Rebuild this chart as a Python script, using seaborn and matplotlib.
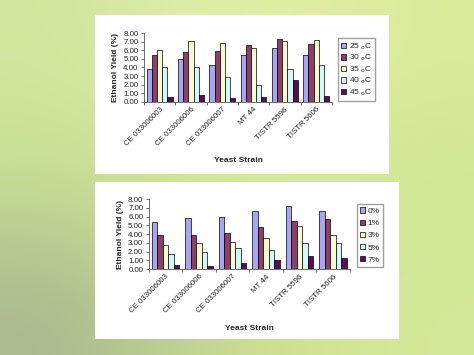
import matplotlib
matplotlib.use("Agg")
import matplotlib.pyplot as plt
import seaborn as sns
import pandas as pd
import numpy as np
from matplotlib.patches import Rectangle
from matplotlib.ticker import FixedLocator, FormatStrFormatter

strains = ["CE 033006003", "CE 033006006", "CE 033006007", "MT 44", "TISTR 5596", "TISTR 5606"]

temp_labels = ["25 $_{\\rm o}$C", "30 $_{\\rm o}$C", "35 $_{\\rm o}$C", "40 $_{\\rm o}$C", "45 $_{\\rm o}$C"]
temp_25 = [3.8, 5.0, 4.3, 5.4, 6.25, 5.5]
temp_30 = [5.4, 5.85, 5.95, 6.6, 7.25, 6.7]
temp_35 = [6.0, 7.1, 6.8, 6.25, 7.05, 7.2]
temp_40 = [4.1, 4.05, 2.85, 2.0, 3.85, 4.3]
temp_45 = [0.6, 0.8, 0.45, 0.55, 2.5, 0.65]

eth_labels = ["0%", "1%", "3%", "5%", "7%"]
eth_0 = [5.4, 5.85, 6.0, 6.6, 7.25, 6.7]
eth_1 = [3.9, 3.95, 4.1, 4.85, 5.5, 5.75]
eth_3 = [2.75, 3.0, 3.15, 3.55, 4.95, 3.85]
eth_5 = [1.75, 1.95, 2.4, 2.2, 2.95, 2.95]
eth_7 = [0.45, 0.3, 0.65, 1.05, 1.45, 1.3]

colors = ["#9999FF", "#993366", "#FFFFCC", "#CCFFFF", "#660066"]

sns.set_theme(style="white")
plt.rcParams["font.family"] = ["Liberation Sans", "DejaVu Sans"]


def long_table(labels, series):
    rows = []
    for lab, vals in zip(labels, series):
        for s, v in zip(strains, vals):
            rows.append({"Strain": s, "Group": lab, "Yield": v})
    return pd.DataFrame(rows)


def draw_panel(fig, rect, legend_anchor, labels, series, spacing):
    ax = fig.add_axes(rect)
    ax.set_facecolor("none")
    df = long_table(labels, series)
    sns.barplot(data=df, x="Strain", y="Yield", hue="Group", palette=colors,
                edgecolor="black", linewidth=0.5, width=0.82, ax=ax)
    ax.set_ylim(0, 8)
    ax.set_xlim(-0.5, len(strains) - 0.5)
    ax.set_yticks(np.arange(0, 9, 1))
    ax.yaxis.set_major_formatter(FormatStrFormatter("%.2f"))
    ax.xaxis.set_minor_locator(FixedLocator(np.arange(-0.5, len(strains), 1)))
    ax.tick_params(axis="x", which="major", length=0, labelsize=5.7, pad=3, labelcolor="#222222")
    ax.tick_params(axis="x", which="minor", length=2.5, width=0.6, color="#555555", bottom=True)
    ax.tick_params(axis="y", length=2.5, width=0.6, color="#555555", labelsize=5.7, pad=1.5,
                   left=True, labelcolor="#222222")
    for lab in ax.get_xticklabels():
        lab.set_rotation(45)
        lab.set_ha("right")
        lab.set_rotation_mode("anchor")
    for side in ["top", "right"]:
        ax.spines[side].set_visible(False)
    for side in ["left", "bottom"]:
        ax.spines[side].set_color("#555555")
        ax.spines[side].set_linewidth(0.6)
    ax.set_xlabel("Yeast Strain", fontsize=6, fontweight="bold", labelpad=7)
    ax.set_ylabel("Ethanol Yield (%)", fontsize=6, fontweight="bold", labelpad=3)
    handles, labs = ax.get_legend_handles_labels()
    ax.legend(handles, labs, loc="upper left", bbox_to_anchor=legend_anchor,
              bbox_transform=fig.transFigure, fontsize=6, frameon=True,
              fancybox=False, edgecolor="#888888", handlelength=0.6,
              handleheight=0.6, handletextpad=0.3, labelspacing=spacing,
              borderpad=0.4, borderaxespad=0)
    return ax


fig = plt.figure(figsize=(4.74, 3.55), dpi=100)

# green textured slide background (approximated with a soft gradient)
bg = fig.add_axes([0, 0, 1, 1], zorder=-5)
bg.axis("off")
grad = np.array([[[0.82, 0.90, 0.62], [0.90, 0.94, 0.68], [0.86, 0.92, 0.60]],
                 [[0.78, 0.88, 0.58], [0.85, 0.92, 0.62], [0.82, 0.90, 0.58]],
                 [[0.66, 0.72, 0.56], [0.80, 0.88, 0.56], [0.84, 0.91, 0.60]]])
bg.imshow(grad, aspect="auto", interpolation="bicubic", extent=[0, 1, 0, 1])
bg.set_xlim(0, 1)
bg.set_ylim(0, 1)

# white chart panels
bg.add_patch(Rectangle((0.200, 0.510), 0.621, 0.448, facecolor="white", edgecolor="none", zorder=3))
bg.add_patch(Rectangle((0.200, 0.045), 0.642, 0.442, facecolor="white", edgecolor="none", zorder=3))

draw_panel(fig, [0.304, 0.713, 0.396, 0.194], (0.713, 0.893),
           temp_labels, [temp_25, temp_30, temp_35, temp_40, temp_45], 0.12)
draw_panel(fig, [0.314, 0.242, 0.424, 0.197], (0.753, 0.425),
           eth_labels, [eth_0, eth_1, eth_3, eth_5, eth_7], 0.55)

fig.savefig("out.png", dpi=100)
